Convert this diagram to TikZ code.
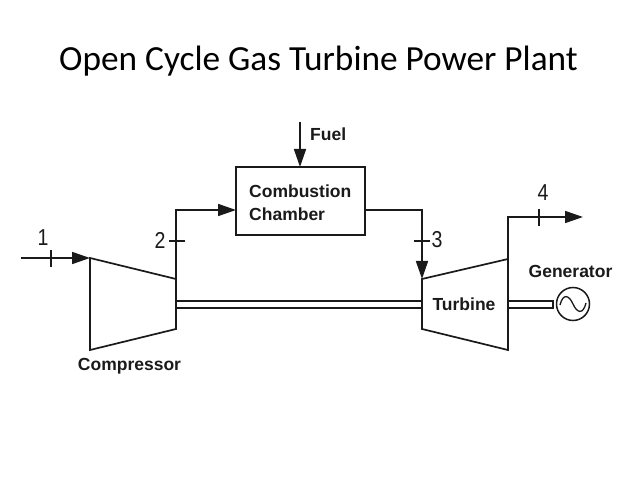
\documentclass[tikz,border=0pt]{standalone}
\usepackage{fontspec}
\setmainfont{Liberation Sans}
\newfontfamily\titlefont{Carlito}
\usetikzlibrary{arrows.meta}
\definecolor{ink}{HTML}{1A1A1A}
\tikzset{
  x=1pt,y=-1pt,
  line/.style={draw=ink,line width=1.7pt,line join=miter},
  flow/.style={line,-{Triangle[length=18pt,width=12pt]}},
  tick/.style={draw=ink,line width=1.2pt},
  lab/.style={text=ink,font=\fontsize{17.5}{23}\selectfont\bfseries,inner sep=0pt,align=left},
  num/.style={text=ink,font=\fontsize{23}{23}\selectfont,inner sep=0pt,xscale=0.85},
}
\begin{document}
\begin{tikzpicture}
\useasboundingbox (0,0) rectangle (638,478);
\fill[white] (0,0) rectangle (638,478);
\node[inner sep=0pt,text=black,font=\titlefont\fontsize{35.3}{38}\selectfont] (title) at (318.5,61.5) {Open Cycle Gas Turbine Power Plant};
% compressor
\coordinate (c1) at (90,258);
\coordinate (c2) at (176,279);
\coordinate (c3) at (176,329);
\coordinate (c4) at (90,350);
\draw[line] (c1) -- (c2) -- (c3) -- (c4) -- cycle;
% turbine
\coordinate (t1) at (422,279);
\coordinate (t2) at (508,259);
\coordinate (t3) at (508,350);
\coordinate (t4) at (422,329);
\draw[line] (t1) -- (t2) -- (t3) -- (t4) -- cycle;
% chamber
\node[line,rectangle,minimum width=129pt,minimum height=68pt,inner sep=0pt] (cc) at (300.5,201) {};
\node[lab,anchor=west] (cctext) at (249,202.5) {Combustion\\Chamber};
% generator
\node[draw=ink,line width=1.5pt,circle,minimum size=33pt,inner sep=0pt] (gen) at (573,304) {};
\coordinate (w1) at (560,305);
\coordinate (w2) at (573,304);
\coordinate (w3) at (586,303);
\coordinate (wc1) at (563,293);
\coordinate (wc2) at (569,295);
\coordinate (wc3) at (577,313);
\coordinate (wc4) at (583,315);
\draw[ink,line width=1.3pt] (w1) .. controls (wc1) and (wc2) .. (w2) .. controls (wc3) and (wc4) .. (w3);
% flows
\coordinate (in) at (21,258);
\coordinate (fuel) at (300,122);
\coordinate (cctop) at (300,167);
\coordinate (ccl) at (236,210);
\coordinate (ccr) at (365,210);
\coordinate (up2) at (176,210);
\coordinate (dn3) at (422,210);
\coordinate (up4) at (508,217);
\coordinate (out) at (583,217);
\draw[flow] (in) -- (c1);
\draw[flow] (fuel) -- (cctop);
\draw[flow] (c2) -- (up2) -- (ccl);
\draw[flow] (ccr) -- (dn3) -- (t1);
\draw[flow] (t2) -- (up4) -- (out);
% shafts
\coordinate (s1a) at (176,301);
\coordinate (s1b) at (422,301);
\coordinate (s2a) at (176,308);
\coordinate (s2b) at (422,308);
\draw[line] (s1a) -- (s1b);
\draw[line] (s2a) -- (s2b);
\coordinate (s3a) at (508,301);
\coordinate (s3b) at (553,301);
\coordinate (s3c) at (553,308);
\coordinate (s3d) at (508,308);
\draw[line] (s3a) -- (s3b) -- (s3c) -- (s3d);
% ticks
\coordinate (k1a) at (51,250); \coordinate (k1b) at (51,267);
\coordinate (k2a) at (169,241); \coordinate (k2b) at (185,241);
\coordinate (k3a) at (414,241); \coordinate (k3b) at (430,241);
\coordinate (k4a) at (539,209); \coordinate (k4b) at (539,226);
\draw[tick] (k1a) -- (k1b);
\draw[tick] (k2a) -- (k2b);
\draw[tick] (k3a) -- (k3b);
\draw[tick] (k4a) -- (k4b);
% labels
\node[num] (n1) at (43,238) {1};
\node[num] (n2) at (160,240) {2};
\node[num] (n3) at (437,240) {3};
\node[num] (n4) at (543,193) {4};
\node[lab,anchor=west] (fl) at (310,134) {Fuel};
\node[lab] (cl) at (129.5,366.5) {Compressor};
\node[lab] (tl) at (464,304) {Turbine};
\node[lab] (gl) at (570.5,271) {Generator};
\end{tikzpicture}
\end{document}
